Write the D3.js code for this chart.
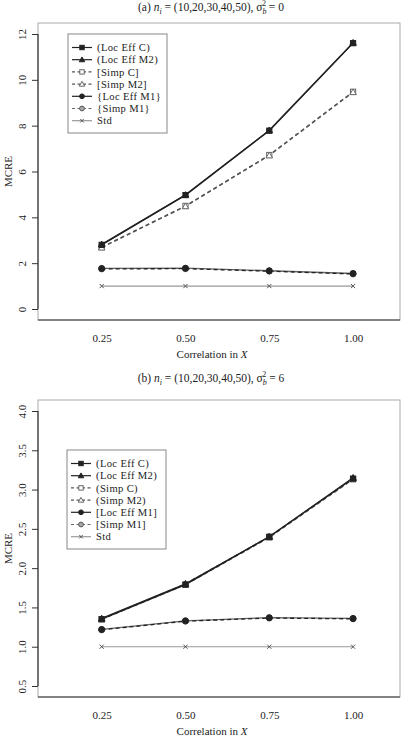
<!DOCTYPE html>
<html><head><meta charset="utf-8">
<script src="https://cdn.jsdelivr.net/npm/d3@7/dist/d3.min.js"></script>
<style>body{margin:0;background:#fff;} svg{display:block;font-family:"Liberation Serif","Times New Roman",serif;}</style>
</head><body>
<svg id="c" width="402" height="736"></svg>
<script>
const xValues = [0.25, 0.50, 0.75, 1.00];
const xTickLabels = ["0.25", "0.50", "0.75", "1.00"];
const seriesKeys = ["LocEffC", "LocEffM2", "SimpC", "SimpM2", "LocEffM1", "SimpM1", "Std"];

// Panel (a)
const aLocEffC  = [2.80, 4.97, 7.78, 11.60];
const aLocEffM2 = [2.82, 4.98, 7.80, 11.62];
const aSimpC    = [2.70, 4.50, 6.72, 9.48];
const aSimpM2   = [2.68, 4.48, 6.70, 9.46];
const aLocEffM1 = [1.77, 1.78, 1.67, 1.55];
const aSimpM1   = [1.75, 1.76, 1.65, 1.53];
const aStd      = [1.00, 1.00, 1.00, 1.00];
const aLegendLabels = ["(Loc Eff C)", "(Loc Eff M2)", "[Simp C]", "[Simp M2]", "{Loc Eff M1}", "{Simp M1}", "Std"];
const aYTicks = [0, 2, 4, 6, 8, 10, 12];

// Panel (b)
const bLocEffC  = [1.35, 1.79, 2.40, 3.14];
const bLocEffM2 = [1.36, 1.80, 2.40, 3.15];
const bSimpC    = [1.35, 1.79, 2.39, 3.13];
const bSimpM2   = [1.35, 1.80, 2.40, 3.14];
const bLocEffM1 = [1.22, 1.33, 1.37, 1.36];
const bSimpM1   = [1.215, 1.325, 1.365, 1.355];
const bStd      = [1.00, 1.00, 1.00, 1.00];
const bLegendLabels = ["(Loc Eff C)", "(Loc Eff M2)", "(Simp C)", "(Simp M2)", "[Loc Eff M1]", "[Simp M1]", "Std"];
const bYTicks = [0.5, 1.0, 1.5, 2.0, 2.5, 3.0, 3.5, 4.0];

const styles = {
  LocEffC:  {stroke:"#222", dash:null,  shape:"square",   fill:"#222", mstroke:"#222"},
  LocEffM2: {stroke:"#222", dash:null,  shape:"triangle", fill:"#222", mstroke:"#222"},
  SimpC:    {stroke:"#555", dash:"4,3", shape:"square",   fill:"#fff", mstroke:"#666"},
  SimpM2:   {stroke:"#555", dash:"4,3", shape:"triangle", fill:"#fff", mstroke:"#666"},
  LocEffM1: {stroke:"#666", dash:null,  shape:"circle",   fill:"#222", mstroke:"#222"},
  SimpM1:   {stroke:"#222", dash:"4,3", shape:"circle",   fill:"#aaa", mstroke:"#555"},
  Std:      {stroke:"#999", dash:null,  shape:"cross",    fill:"none", mstroke:"#555"}
};
const legendLineColor = {LocEffM1: "#222", SimpM1: "#666"};

const svg = d3.select("#c");

function drawMarker(g, shape, x, y, st, s) {
  if (shape === "square") {
    g.append("rect").attr("x", x - s).attr("y", y - s).attr("width", 2*s).attr("height", 2*s)
      .attr("fill", st.fill).attr("stroke", st.mstroke).attr("stroke-width", 1);
  } else if (shape === "triangle") {
    const h = s * 1.25;
    g.append("path").attr("d", `M${x},${y-h} L${x+h},${y+h*0.75} L${x-h},${y+h*0.75} Z`)
      .attr("fill", st.fill).attr("stroke", st.mstroke).attr("stroke-width", 1);
  } else if (shape === "circle") {
    g.append("circle").attr("cx", x).attr("cy", y).attr("r", s)
      .attr("fill", st.fill).attr("stroke", st.mstroke).attr("stroke-width", 1);
  } else if (shape === "cross") {
    const c = s * 0.8;
    g.append("path").attr("d", `M${x-c},${y-c} L${x+c},${y+c} M${x-c},${y+c} L${x+c},${y-c}`)
      .attr("stroke", st.mstroke).attr("stroke-width", 1);
  }
}

function title(g, cx, y, letter, val) {
  const t = g.append("text").attr("x", cx).attr("y", y).attr("text-anchor", "middle")
    .attr("font-size", 11.5).attr("fill", "#222");
  t.append("tspan").text(`(${letter}) `);
  t.append("tspan").attr("font-style", "italic").text("n");
  t.append("tspan").attr("font-style", "italic").attr("font-size", 8).attr("dy", 3).text("i");
  t.append("tspan").attr("dy", -3).text(" = (10,20,30,40,50), σ");
  t.append("tspan").attr("font-style", "italic").attr("font-size", 8).attr("dy", 3).text("b");
  t.append("tspan").attr("font-size", 8).attr("dx", -4.5).attr("dy", -8).text("2");
  t.append("tspan").attr("dy", 5).text(" = " + val);
}

function panel(cfg) {
  const g = svg.append("g");
  const x = d3.scaleLinear().domain([0.06, 1.14]).range([cfg.left, cfg.right]);
  const y = d3.scaleLinear().domain(cfg.yDomain).range([cfg.bottom, cfg.top]);

  // box
  g.append("rect").attr("x", cfg.left).attr("y", cfg.top)
    .attr("width", cfg.right - cfg.left).attr("height", cfg.bottom - cfg.top)
    .attr("fill", "none").attr("stroke", "#aaa").attr("stroke-width", 1);
  g.append("line").attr("x1", cfg.left).attr("x2", cfg.right).attr("y1", cfg.bottom).attr("y2", cfg.bottom)
    .attr("stroke", "#333").attr("stroke-width", 1.2);

  // y axis
  const yAxis = d3.axisLeft(y).tickValues(cfg.yTicks).tickSize(6).tickFormat(cfg.yFmt);
  const ya = g.append("g").attr("transform", `translate(${cfg.left},0)`).call(yAxis);
  ya.select(".domain").attr("d", `M0,${y(cfg.yTicks[0])}V${y(cfg.yTicks[cfg.yTicks.length-1])}`)
    .attr("stroke", "#333").attr("stroke-width", 1.2);
  ya.selectAll(".tick line").attr("stroke", "#333");
  ya.selectAll(".tick text").attr("font-family", "Liberation Serif").attr("font-size", 11).attr("fill", "#222")
    .attr("x", 0).attr("dy", 0)
    .attr("text-anchor", "middle")
    .attr("transform", "translate(-12,0) rotate(-90)");

  // x axis labels
  const xAxis = d3.axisBottom(x).tickValues(xValues).tickSize(0).tickFormat((d, i) => xTickLabels[i]);
  const xa = g.append("g").attr("transform", `translate(0,${cfg.bottom})`).call(xAxis);
  xa.select(".domain").remove();
  xa.selectAll(".tick text").attr("font-family", "Liberation Serif").attr("font-size", 11).attr("fill", "#222")
    .attr("y", 14);

  // axis titles
  const xl = g.append("text").attr("x", (cfg.left + cfg.right) / 2 - 7).attr("y", cfg.bottom + 38)
    .attr("text-anchor", "middle").attr("font-size", 11).attr("fill", "#222");
  xl.append("tspan").text("Correlation in ");
  xl.append("tspan").attr("font-style", "italic").text("X");
  g.append("text").attr("transform", `translate(12,${(cfg.top + cfg.bottom) / 2}) rotate(-90)`)
    .attr("text-anchor", "middle").attr("font-size", 11).attr("fill", "#222").text("MCRE");

  title(g, 211, cfg.titleY, cfg.letter, cfg.sigma);

  // series
  const line = d3.line().x((d, i) => x(xValues[i])).y(d => y(d));
  const order = ["Std", "SimpC", "SimpM2", "LocEffC", "LocEffM2", "LocEffM1", "SimpM1"];
  order.forEach(k => {
    const st = styles[k];
    g.append("path").attr("d", line(cfg.data[k])).attr("fill", "none")
      .attr("stroke", st.stroke).attr("stroke-width", k === "Std" ? 1.1 : 1.3)
      .attr("stroke-dasharray", st.dash);
  });
  ["Std", "SimpC", "SimpM2", "LocEffC", "LocEffM2", "SimpM1", "LocEffM1"].forEach(k => {
    const st = styles[k];
    cfg.data[k].forEach((v, i) => drawMarker(g, st.shape, x(xValues[i]), y(v), st, st.shape === "circle" ? 3 : 2.6));
  });

  // legend
  const lg = g.append("g");
  lg.append("rect").attr("x", cfg.legX).attr("y", cfg.legY).attr("width", 99).attr("height", 99)
    .attr("fill", "#fff").attr("stroke", "#888").attr("stroke-width", 1);
  seriesKeys.forEach((k, i) => {
    const st = styles[k];
    const yy = cfg.legY + 13.5 + i * 12.2;
    lg.append("line").attr("x1", cfg.legX + 4).attr("x2", cfg.legX + 24).attr("y1", yy).attr("y2", yy)
      .attr("stroke", legendLineColor[k] || st.stroke).attr("stroke-width", 1.2).attr("stroke-dasharray", st.dash ? "3,2.5" : null);
    drawMarker(lg, st.shape, cfg.legX + 14, yy, st, st.shape === "circle" ? 2.4 : 2.2);
    lg.append("text").attr("x", cfg.legX + 29).attr("y", yy + 3.6).attr("font-size", 10.6)
      .attr("letter-spacing", 0.35).attr("fill", "#222")
      .text(cfg.legendLabels[i]);
  });
}

panel({
  left: 38, right: 400, top: 23, bottom: 320,
  yDomain: [-0.48, 12.48], yTicks: aYTicks, yFmt: d3.format("d"),
  titleY: 11, letter: "a", sigma: "0",
  legX: 68, legY: 34, legendLabels: aLegendLabels,
  data: {LocEffC: aLocEffC, LocEffM2: aLocEffM2, SimpC: aSimpC, SimpM2: aSimpM2, LocEffM1: aLocEffM1, SimpM1: aSimpM1, Std: aStd}
});
panel({
  left: 38, right: 400, top: 400, bottom: 697,
  yDomain: [0.36, 4.14], yTicks: bYTicks, yFmt: d3.format(".1f"),
  titleY: 382, letter: "b", sigma: "6",
  legX: 67, legY: 450, legendLabels: bLegendLabels,
  data: {LocEffC: bLocEffC, LocEffM2: bLocEffM2, SimpC: bSimpC, SimpM2: bSimpM2, LocEffM1: bLocEffM1, SimpM1: bSimpM1, Std: bStd}
});
</script>
</body></html>
